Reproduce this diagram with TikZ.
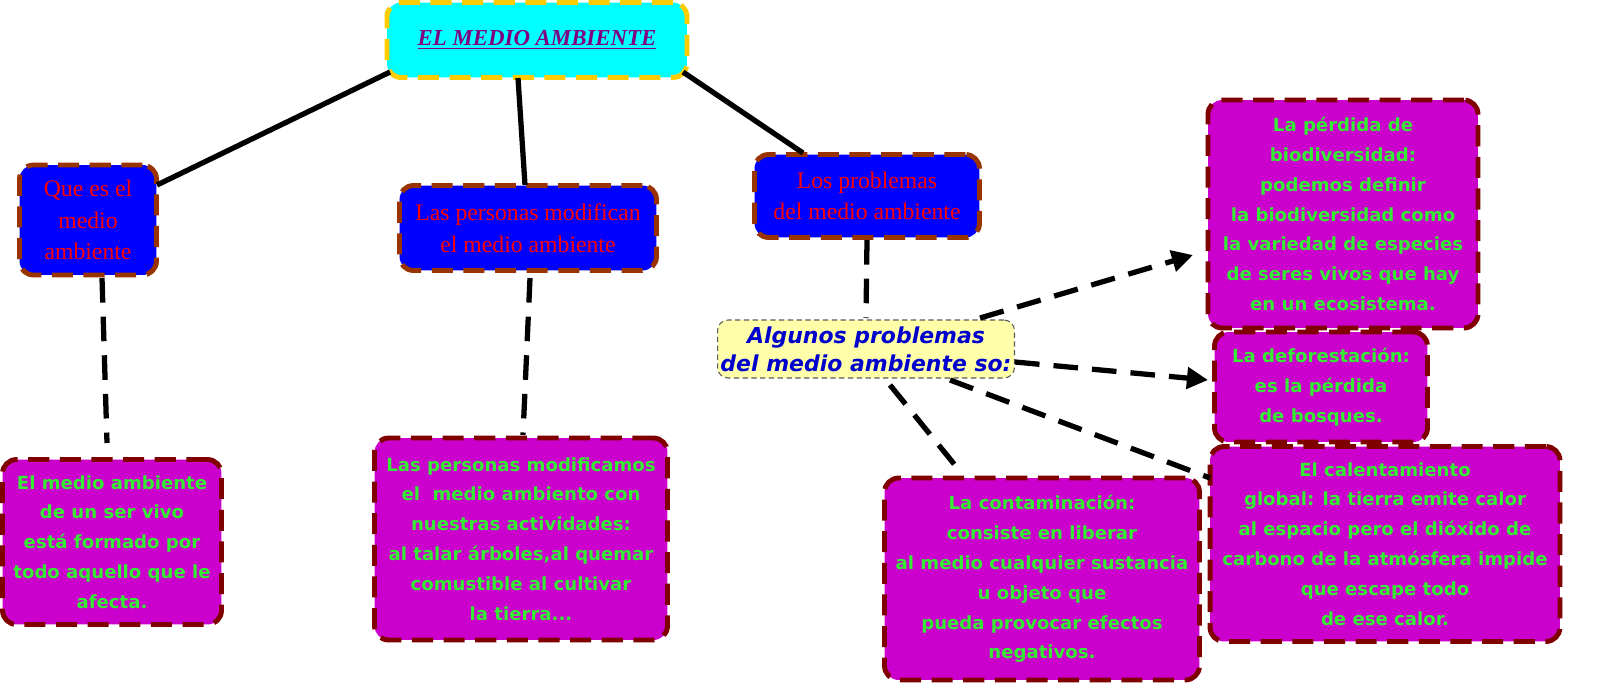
\documentclass[tikz,border=0pt]{standalone}
\usepackage{fontspec}
\setmainfont{DejaVu Sans}
\newfontfamily\redf{Liberation Serif}
\usetikzlibrary{arrows.meta}
\definecolor{mag}{HTML}{CC00CC}
\definecolor{dred}{HTML}{800000}
\definecolor{brn}{HTML}{993300}
\definecolor{grn}{HTML}{33EE33}
\definecolor{cyn}{HTML}{00FFFF}
\definecolor{gold}{HTML}{FFCC00}
\definecolor{pur}{HTML}{800080}
\definecolor{yel}{HTML}{FFFFAA}
\begin{document}
\begin{tikzpicture}[x=0.02cm,y=-0.02cm,
 box/.style={draw,rounded corners=8pt,line width=2.8pt,dash pattern=on 12pt off 6pt,inner sep=0pt,align=center,anchor=center},
 mbox/.style={box,draw=dred,fill=mag,text=grn,font=\bfseries\fontsize{10.3}{17}\selectfont},
 bbox/.style={box,draw=brn,fill=blue,text=red,font=\redf\fontsize{13.5}{18}\selectfont},
 solidl/.style={line width=3pt},
 dashl/.style={line width=3pt,dash pattern=on 14pt off 8pt},
 arr/.style={dashl,-{Triangle[length=12pt,width=12pt]}}]
\useasboundingbox (0,0) rectangle (1600,697);
\node[box,draw=gold,fill=cyn,minimum width=6cm,minimum height=1.5cm] (t) at (537,40) {\textcolor{pur}{\underline{\bfseries\fontsize{13}{15}\selectfont\redf\itshape EL MEDIO AMBIENTE}}};
\node[bbox,minimum width=2.74cm,minimum height=2.2cm] (q) at (88,220) {Que es el\\ medio\\ ambiente};
\node[bbox,minimum width=5.14cm,minimum height=1.7cm] (p) at (528,228) {Las personas modifican\\ el medio ambiente};
\node[bbox,minimum width=4.5cm,minimum height=1.66cm] (l) at (867,196) {Los problemas\\ del medio ambiente};
\node[box,draw=gray!70!black,line width=0.6pt,dash pattern=on 3pt off 2pt,fill=yel,text=blue!80!black,font=\bfseries\itshape\fontsize{12.5}{16}\selectfont,minimum width=5.94cm,minimum height=1.16cm,rounded corners=6pt] (a) at (866,349) {Algunos problemas\\ del medio ambiente so:};
\node[mbox,minimum width=5.4cm,minimum height=4.56cm] (b) at (1343,214) {La pérdida de\\ biodiversidad:\\ podemos definir\\ la biodiversidad como\\ la variedad de especies\\ de seres vivos que hay\\ en un ecosistema.};
\node[mbox,minimum width=4.26cm,minimum height=2.2cm] (d) at (1321,387) {La deforestación:\\ es la pérdida\\ de bosques.};
\node[mbox,minimum width=7cm,minimum height=3.9cm] (c) at (1385,544) {El calentamiento\\ global: la tierra emite calor\\ al espacio pero el dióxido de\\ carbono de la atmósfera impide\\ que escape todo\\ de ese calor.};
\node[mbox,minimum width=6.3cm,minimum height=4.04cm] (k) at (1042,579) {La contaminación:\\ consiste en liberar\\ al medio cualquier sustancia\\ u objeto que\\ pueda provocar efectos\\ negativos.};
\node[mbox,minimum width=4.38cm,minimum height=3.3cm] (s) at (112,542) {El medio ambiente\\ de un ser vivo\\ está formado por\\ todo aquello que le\\ afecta.};
\node[mbox,minimum width=5.86cm,minimum height=4.04cm] (m) at (521,539) {Las personas modificamos\\ el\ \ medio ambiento con\\ nuestras actividades:\\ al talar árboles,al quemar\\ comustible al cultivar\\ la tierra...};
\coordinate (t1) at (390,72); \coordinate (t2) at (518,78); \coordinate (t3) at (683,72);
\coordinate (q1) at (157,185); \coordinate (p1) at (525,185); \coordinate (l1) at (803,153);
\draw[solidl] (t1) -- (q1); \draw[solidl] (t2) -- (p1); \draw[solidl] (t3) -- (l1);
\coordinate (q2) at (102,278); \coordinate (s1) at (107,443);
\coordinate (p2) at (530,278); \coordinate (m1) at (523,435);
\coordinate (l2) at (867,240); \coordinate (a1) at (866,318);
\coordinate (a2) at (980,318); \coordinate (b1) at (1193,255);
\coordinate (a3) at (1015,362); \coordinate (d1) at (1208,380);
\coordinate (a4) at (950,380); \coordinate (c1) at (1210,478);
\coordinate (a5) at (890,385); \coordinate (k1) at (963,475);
\draw[dashl] (q2) -- (s1); \draw[dashl] (p2) -- (m1); \draw[dashl] (l2) -- (a1);
\draw[arr] (a2) -- (b1); \draw[arr] (a3) -- (d1);
\draw[dashl] (a4) -- (c1); \draw[dashl] (a5) -- (k1);
\end{tikzpicture}
\end{document}
